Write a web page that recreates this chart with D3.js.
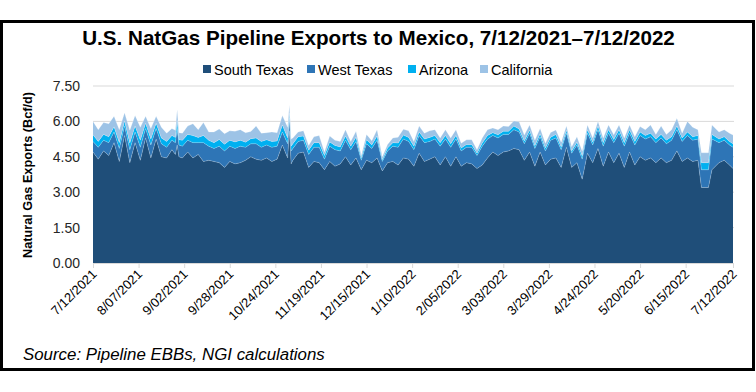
<!DOCTYPE html>
<html><head><meta charset="utf-8">
<script src="https://cdn.jsdelivr.net/npm/d3@7"></script>
<style>
html,body{margin:0;padding:0;background:#fff;}
svg{display:block;font-family:"Liberation Sans",Arial,sans-serif;}
</style></head>
<body><svg id="c" width="756" height="392"></svg>
<script>
// ---- data ----
const startDate = "2021-07-12";
const dayOffsets = [0,3,6,9,12,15,18,21,24,27,30,33,36,39,42,45,47,48,49,51,54,57,60,63,66,69,72,75,78,81,84,87,90,93,96,99,102,105,108,111,112,113,114,117,120,123,126,129,132,135,138,141,144,147,150,153,156,159,162,165,168,171,174,177,180,183,186,189,192,195,198,201,204,207,210,213,216,219,222,225,228,231,234,237,240,243,246,249,252,255,258,261,264,267,270,273,276,279,282,285,288,291,294,297,300,303,306,309,312,315,318,321,324,327,330,333,336,339,342,345,347,351,353,357,360,363,365];
const southTexas = [4.70,4.40,4.75,4.55,5.10,4.30,5.40,4.25,5.10,4.35,5.30,4.45,5.25,4.50,4.45,4.80,4.60,5.00,4.50,4.45,4.70,4.45,4.60,4.30,4.35,4.30,4.25,4.05,4.30,4.20,4.25,4.35,4.50,4.40,4.35,4.45,4.30,4.40,5.00,4.45,5.60,4.20,4.35,4.65,4.70,4.05,4.30,4.25,3.95,4.30,4.10,4.20,4.50,4.15,4.45,3.95,4.35,4.25,4.45,3.90,4.25,4.30,4.15,4.45,4.40,4.10,4.65,4.30,4.40,4.50,4.15,4.50,4.10,4.50,4.10,4.25,4.20,4.00,4.15,4.45,4.70,4.55,4.70,4.75,4.85,4.80,4.35,4.70,4.10,4.70,4.15,4.40,4.45,4.05,4.90,4.05,4.25,3.55,4.65,4.25,4.85,4.10,4.70,4.25,4.65,4.05,4.70,4.15,4.50,4.35,4.45,4.25,4.45,4.25,4.35,4.75,4.30,4.45,4.30,4.35,3.20,3.20,3.95,4.25,4.35,4.15,4.00];
const westTexas = [0.45,0.50,0.45,0.55,0.45,0.55,0.40,0.55,0.45,0.55,0.40,0.55,0.45,0.55,0.45,0.40,0.50,0.70,0.50,0.50,0.50,0.65,0.50,0.80,0.60,0.55,0.70,0.70,0.65,0.65,0.70,0.55,0.55,0.65,0.55,0.55,0.60,0.55,0.55,0.60,0.55,0.55,0.50,0.50,0.50,0.55,0.60,0.65,0.45,0.65,0.70,0.55,0.70,0.65,0.70,0.40,0.70,0.60,0.75,0.40,0.50,0.65,0.75,0.80,0.75,0.70,0.75,0.80,0.75,0.75,0.80,0.75,0.80,0.75,0.65,0.65,0.70,0.55,0.80,0.80,0.70,0.75,0.75,0.70,0.80,0.75,0.70,0.80,0.75,0.65,0.60,0.80,0.85,0.75,0.60,0.60,0.75,0.85,0.85,0.75,0.80,0.85,0.80,0.85,0.85,0.90,0.80,0.85,0.90,0.90,0.90,0.85,0.85,0.80,0.85,0.90,0.85,0.95,0.90,0.90,0.75,0.75,1.30,0.85,0.85,0.85,0.90];
const arizona = [0.28,0.25,0.25,0.25,0.22,0.25,0.22,0.28,0.25,0.30,0.22,0.25,0.22,0.25,0.25,0.20,0.22,0.35,0.22,0.25,0.25,0.30,0.22,0.30,0.25,0.25,0.28,0.28,0.25,0.28,0.25,0.22,0.22,0.25,0.25,0.22,0.25,0.22,0.30,0.25,0.20,0.20,0.20,0.20,0.18,0.18,0.20,0.20,0.15,0.18,0.18,0.17,0.18,0.15,0.18,0.10,0.17,0.15,0.18,0.08,0.12,0.15,0.18,0.17,0.17,0.15,0.15,0.15,0.17,0.15,0.15,0.15,0.15,0.15,0.12,0.12,0.12,0.10,0.13,0.15,0.12,0.13,0.13,0.13,0.15,0.13,0.12,0.13,0.12,0.13,0.12,0.13,0.14,0.12,0.12,0.10,0.12,0.13,0.15,0.12,0.15,0.15,0.15,0.13,0.15,0.15,0.15,0.15,0.15,0.15,0.15,0.15,0.15,0.15,0.15,0.15,0.15,0.15,0.15,0.15,0.30,0.30,0.20,0.15,0.15,0.15,0.15];
const california = [0.57,0.50,0.50,0.55,0.45,0.55,0.35,0.55,0.45,0.55,0.30,0.45,0.30,0.45,0.35,0.30,0.30,0.45,0.30,0.30,0.35,0.50,0.33,0.55,0.35,0.45,0.45,0.45,0.40,0.45,0.45,0.40,0.30,0.50,0.35,0.30,0.40,0.35,0.40,0.45,0.35,0.30,0.25,0.20,0.22,0.20,0.25,0.30,0.15,0.25,0.22,0.23,0.27,0.20,0.25,0.10,0.23,0.18,0.27,0.12,0.15,0.20,0.25,0.25,0.28,0.20,0.25,0.25,0.28,0.25,0.20,0.25,0.25,0.25,0.20,0.20,0.20,0.15,0.22,0.25,0.20,0.22,0.22,0.20,0.22,0.30,0.25,0.22,0.23,0.22,0.20,0.20,0.20,0.20,0.18,0.18,0.23,0.20,0.20,0.18,0.20,0.20,0.20,0.20,0.20,0.20,0.20,0.20,0.23,0.25,0.35,0.20,0.35,0.25,0.30,0.33,0.20,0.45,0.40,0.25,0.42,0.42,0.40,0.30,0.30,0.35,0.37];
const seriesNames = ["South Texas","West Texas","Arizona","California"];
const seriesColors = ["#1f4e79","#2e75b6","#00b0f0","#9dc3e6"];
const yTicks = [0,1.5,3,4.5,6,7.5];
const tickLabels = ["7/12/2021","8/07/2021","9/02/2021","9/28/2021","10/24/2021","11/19/2021","12/15/2021","1/10/2022","2/05/2022","3/03/2022","3/29/2022","4/24/2022","5/20/2022","6/15/2022","7/12/2022"];
const titleText = "U.S. NatGas Pipeline Exports to Mexico, 7/12/2021\u20137/12/2022";
const yTitle = "Natural Gas Exports (Bcf/d)";
const sourceText = "Source: Pipeline EBBs, NGI calculations";

// ---- build ----
const svg = d3.select("#c");
const m = {left: 93, right: 733, top: 86, bottom: 263};
const parse = d3.timeParse("%Y-%m-%d");
const parseTick = d3.timeParse("%m/%d/%Y");
const t0 = parse(startDate);
const seriesArrays = [southTexas, westTexas, arizona, california];
const rows = dayOffsets.map((d, i) => {
  const r = {date: d3.timeDay.offset(t0, d)};
  seriesNames.forEach((n, j) => r[n] = seriesArrays[j][i]);
  return r;
});
const tickDates = tickLabels.map(s => parseTick(s));

const x = d3.scaleTime().domain([tickDates[0], tickDates[tickDates.length-1]]).range([m.left, m.right]);
const y = d3.scaleLinear().domain([0, 7.5]).range([m.bottom, m.top]);

function fitText(sel, base, target) {
  const w = sel.node().getComputedTextLength();
  sel.attr("font-size", base * target / w);
}

// border
svg.append("rect").attr("x", 1.5).attr("y", 21.5).attr("width", 752).attr("height", 348)
  .attr("fill", "#fff").attr("stroke", "#000").attr("stroke-width", 3);

// gridlines
svg.append("g").selectAll("line").data(yTicks.filter(v => v > 0)).join("line")
  .attr("x1", m.left).attr("x2", m.right + 1).attr("y1", d => y(d)).attr("y2", d => y(d))
  .attr("stroke", "#d9d9d9").attr("stroke-width", 1);

// stacked areas
const stack = d3.stack().keys(seriesNames);
const layers = stack(rows);
const area = d3.area().x(d => x(d.data.date)).y0(d => y(d[0])).y1(d => y(d[1]));
const topLine = d3.line().x(d => x(d.data.date)).y(d => y(d[1]));
svg.append("g").selectAll("path").data(layers).join("path")
  .attr("d", area).attr("fill", (d, i) => seriesColors[i]);
svg.append("g").selectAll("path").data(layers).join("path")
  .attr("d", topLine).attr("fill", "none").attr("stroke", "#ffffff")
  .attr("stroke-opacity", 0.3).attr("stroke-width", 0.7);

// x axis
const xAxis = d3.axisBottom(x).tickValues(tickDates).tickSize(5).tickFormat((d, i) => tickLabels[i]);
const gx = svg.append("g").attr("transform", `translate(0,${m.bottom})`).call(xAxis);
gx.select(".domain").attr("stroke", "#d9d9d9");
gx.selectAll(".tick line").attr("stroke", "#d9d9d9");
gx.selectAll(".tick text")
  .attr("font-family", "Liberation Sans, Arial, sans-serif").attr("font-size", 13).attr("fill", "#000")
  .attr("text-anchor", "end").attr("dy", 0).attr("y", 0)
  .attr("transform", "translate(4,12) rotate(-45)");

// y axis labels
const gy = svg.append("g");
gy.selectAll("text").data(yTicks).join("text")
  .attr("x", 80).attr("y", d => y(d)).attr("dy", "0.35em").attr("text-anchor", "end")
  .attr("font-size", 14).attr("fill", "#262626").text(d => d.toFixed(2));

const yt = svg.append("text").attr("transform", `translate(32,175) rotate(-90)`)
  .attr("text-anchor", "middle").attr("font-size", 12).attr("font-weight", "bold").attr("fill", "#000")
  .text(yTitle);
fitText(yt, 12, 166);

// title
const title = svg.append("text").attr("x", 378.5).attr("y", 45).attr("text-anchor", "middle")
  .attr("font-size", 18).attr("font-weight", "bold").attr("fill", "#000").text(titleText);
fitText(title, 18, 593);

// legend
const legendX = [203, 307, 408, 480];
const lg = svg.append("g");
seriesNames.forEach((n, i) => {
  lg.append("rect").attr("x", legendX[i]).attr("y", 65).attr("width", 8).attr("height", 8).attr("fill", seriesColors[i]);
  lg.append("text").attr("x", legendX[i] + 11).attr("y", 74.5).attr("font-size", 14.5).attr("fill", "#000").text(n);
});

// source
const src = svg.append("text").attr("x", 23).attr("y", 360).attr("font-size", 15).attr("font-style", "italic")
  .attr("fill", "#000").text(sourceText);
fitText(src, 15, 302);
</script></body></html>
